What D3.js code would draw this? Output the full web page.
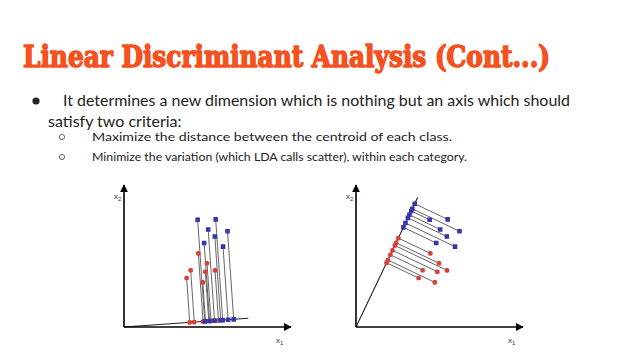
<!DOCTYPE html>
<html>
<head>
<meta charset="utf-8">
<script src="https://cdn.jsdelivr.net/npm/d3@7"></script>
<style>
  body { margin: 0; background: #fff; }
</style>
</head>
<body>
<script>
(function() {

  // sample points (x1, x2), same cloud in both panels
  let blueX1 = [4.41, 5.49, 5.04, 6.20, 5.44, 4.80, 5.93];
  let blueX2 = [6.42, 6.44, 5.84, 5.73, 5.42, 5.03, 4.81];
  let redX1 = [4.45, 4.97, 3.99, 4.87, 5.45, 3.75, 4.72];
  let redX2 = [4.41, 3.82, 3.40, 3.31, 3.39, 2.93, 2.67];

  // projection axis end points (x1, x2) for each panel
  let axisEnds = [[7.44, 0.52], [3.69, 7.75]];

  let titleText = "Linear Discriminant Analysis (Cont...)";
  let bulletLines = ["It determines a new dimension which is nothing but an axis which should",
    "satisfy two criteria:"];
  let subBullets = ["Maximize the distance between the centroid of each class.",
    "Minimize the variation (which LDA calls scatter), within each category."];

  let svg = d3.select("body").append("svg")
    .attr("width", 638)
    .attr("height", 359);

  let defs = svg.append("defs");
  defs.append("marker")
    .attr("id", "arrow")
    .attr("viewBox", "0 0 10 10")
    .attr("refX", 9)
    .attr("refY", 5)
    .attr("markerWidth", 5)
    .attr("markerHeight", 5)
    .attr("orient", "auto")
    .append("path")
    .attr("d", "M0,0 L10,5 L0,10 z")
    .attr("fill", "#000");

  // title
  svg.append("text")
    .attr("x", 23)
    .attr("y", 67)
    .attr("textLength", 527)
    .attr("lengthAdjust", "spacingAndGlyphs")
    .style("font-family", "'DejaVu Serif Condensed', 'DejaVu Serif', serif")
    .style("font-weight", "bold")
    .style("font-size", "29px")
    .style("fill", "#f4511e")
    .style("stroke", "#f4511e")
    .style("stroke-width", 1.4)
    .style("stroke-linejoin", "round")
    .text(titleText);

  // bullets
  svg.append("circle")
    .attr("cx", 36).attr("cy", 101).attr("r", 3.6)
    .attr("fill", "#222");
  svg.append("text")
    .attr("x", 63).attr("y", 106)
    .attr("textLength", 507)
    .attr("lengthAdjust", "spacingAndGlyphs")
    .style("font-family", "Lato, sans-serif")
    .style("font-size", "16px")
    .style("fill", "#222")
    .text(bulletLines[0]);
  svg.append("text")
    .attr("x", 48).attr("y", 127)
    .style("font-family", "Lato, sans-serif")
    .style("font-size", "16px")
    .style("fill", "#222")
    .text(bulletLines[1]);

  let subWidths = [360, 375];
  subBullets.forEach((t, i) => {
    let y = 141 + i * 20;
    svg.append("circle")
      .attr("cx", 62).attr("cy", y - 4).attr("r", 2.6)
      .attr("fill", "none")
      .attr("stroke", "#444")
      .attr("stroke-width", 0.8);
    svg.append("text")
      .attr("x", 92).attr("y", y)
      .attr("textLength", subWidths[i])
      .attr("lengthAdjust", "spacingAndGlyphs")
      .style("font-family", "Lato, sans-serif")
      .style("font-size", "12px")
      .style("fill", "#222")
      .text(t);
  });

  let blue = blueX1.map((d, i) => ({x: d, y: blueX2[i], c: "#3535ad"}));
  let red = redX1.map((d, i) => ({x: d, y: redX2[i], c: "#d8423a"}));
  let points = red.concat(blue);

  drawPanel(124, axisEnds[0]);
  drawPanel(356, axisEnds[1]);

  function drawPanel(ox, end) {
    let xScale = d3.scaleLinear().domain([0, 10]).range([ox, ox + 167]);
    let yScale = d3.scaleLinear().domain([0, 8.5]).range([327, 185]);
    let g = svg.append("g");

    let len = Math.sqrt(end[0] * end[0] + end[1] * end[1]);
    let ux = end[0] / len, uy = end[1] / len;
    let proj = points.map((p) => {
      let t = p.x * ux + p.y * uy;
      return {x: t * ux, y: t * uy, c: p.c, px: p.x, py: p.y};
    });

    // projection lines
    g.selectAll(".proj")
      .data(proj)
      .enter()
      .append("line")
      .attr("x1", (d) => xScale(d.px))
      .attr("y1", (d) => yScale(d.py))
      .attr("x2", (d) => xScale(d.x))
      .attr("y2", (d) => yScale(d.y))
      .attr("stroke", "#555")
      .attr("stroke-width", 0.9);

    // new axis
    g.append("line")
      .attr("x1", xScale(0)).attr("y1", yScale(0))
      .attr("x2", xScale(end[0])).attr("y2", yScale(end[1]))
      .attr("stroke", "#222")
      .attr("stroke-width", 1.1);

    // x1 / x2 axes
    g.append("line")
      .attr("x1", xScale(0)).attr("y1", yScale(0))
      .attr("x2", xScale(10)).attr("y2", yScale(0))
      .attr("stroke", "#000")
      .attr("stroke-width", 1.6)
      .attr("marker-end", "url(#arrow)");
    g.append("line")
      .attr("x1", xScale(0)).attr("y1", yScale(0))
      .attr("x2", xScale(0)).attr("y2", yScale(8.5))
      .attr("stroke", "#000")
      .attr("stroke-width", 1.6)
      .attr("marker-end", "url(#arrow)");

    drawMarks(g, proj.map((d) => ({x: d.x, y: d.y, c: d.c})), xScale, yScale);
    drawMarks(g, points, xScale, yScale);

    axisLabel(g, xScale(9.1), 343, "1");
    axisLabel(g, xScale(-0.6), 199, "2");
  }

  function drawMarks(g, data, xScale, yScale) {
    g.selectAll(null)
      .data(data)
      .enter()
      .append("rect")
      .attr("x", (d) => xScale(d.x) - 2.3)
      .attr("y", (d) => yScale(d.y) - 2.3)
      .attr("width", 4.6)
      .attr("height", 4.6)
      .attr("rx", (d) => d.c == "#d8423a" ? 1.6 : 0.3)
      .attr("fill", (d) => d.c);
  }

  function axisLabel(g, x, y, sub) {
    let t = g.append("text")
      .attr("x", x).attr("y", y)
      .style("font-family", "'Liberation Sans', sans-serif")
      .style("font-size", "8px")
      .style("fill", "#333");
    t.append("tspan").text("x");
    t.append("tspan").attr("dy", 2).style("font-size", "6px").text(sub);
  }
})();
</script>
</body>
</html>
